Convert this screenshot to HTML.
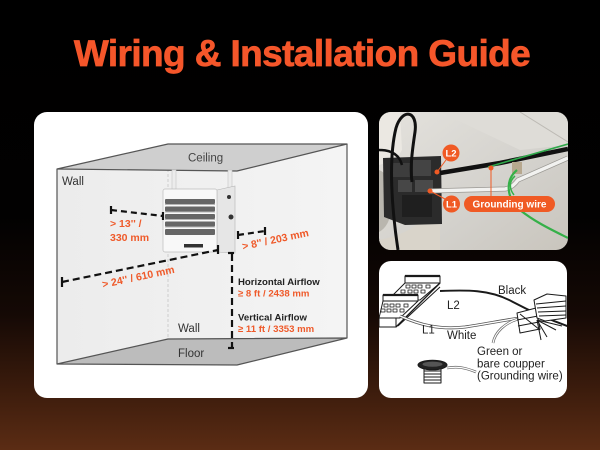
<!DOCTYPE html>
<html><head><meta charset="utf-8"><style>
html,body{margin:0;padding:0;}
body{width:600px;height:450px;overflow:hidden;background:linear-gradient(to bottom,#000 0%,#020101 48%,#150905 70%,#3a1b0c 86%,#5b2c14 100%);}
svg{display:block;font-family:"Liberation Sans",Arial,sans-serif;}
</style></head><body>
<svg width="600" height="450" viewBox="0 0 600 450" xmlns="http://www.w3.org/2000/svg">
<defs>
<clipPath id="cp1"><rect x="379" y="112" width="189" height="138" rx="12"/></clipPath>
<clipPath id="cp2"><rect x="379" y="261" width="188" height="137" rx="12"/></clipPath>
<linearGradient id="wallg" x1="0" x2="1" y1="0" y2="0"><stop offset="0" stop-color="#ececec"/><stop offset="1" stop-color="#f4f4f4"/></linearGradient>
<linearGradient id="photog" x1="0" x2="1" y1="0" y2="1"><stop offset="0" stop-color="#e4e2dd"/><stop offset="0.6" stop-color="#d3d1cc"/><stop offset="1" stop-color="#c9c5bd"/></linearGradient>
</defs>

<!-- Title -->
<text x="302" y="66" text-anchor="middle" font-size="37" font-weight="700" fill="#f5562a" stroke="#f5562a" stroke-width="0.7" letter-spacing="-0.6">Wiring &amp; Installation Guide</text>

<!-- Left panel -->
<rect x="34" y="112" width="334" height="286" rx="13" fill="#ffffff"/>
<!-- room -->
<polygon points="57,169 168,144 347,144 347,338 237,365 57,364" fill="url(#wallg)"/>
<line x1="168" y1="144" x2="168" y2="339" stroke="#c4c4c4" stroke-width="0.8" stroke-dasharray="3 2"/>
<polygon points="57,169 168,144 347,144 237,171" fill="#cfcfcf" stroke="#555" stroke-width="1.2" stroke-linejoin="round"/>
<polygon points="57,364 168,339 347,338 237,365" fill="#bcbcbc" stroke="#555" stroke-width="1.2" stroke-linejoin="round"/>
<line x1="57" y1="169" x2="57" y2="364" stroke="#555" stroke-width="1.2"/>
<line x1="347" y1="144" x2="347" y2="338" stroke="#555" stroke-width="1.2"/>
<text x="188" y="161.5" font-size="11.5" fill="#444">Ceiling</text>
<text x="62" y="185" font-size="11.5" fill="#333">Wall</text>
<text x="178" y="332" font-size="11.5" fill="#333">Wall</text>
<text x="178" y="357" font-size="11.5" fill="#333">Floor</text>

<!-- heater -->
<rect x="172" y="170" width="4" height="20" fill="#ececec" stroke="#c4c4c4" stroke-width="0.6"/>
<rect x="228" y="170" width="4" height="18" fill="#ececec" stroke="#c4c4c4" stroke-width="0.6"/>
<polygon points="217,190 235,186 235,253 217,252" fill="#e6e6e6" stroke="#b5b5b5" stroke-width="0.6"/>
<rect x="163" y="189" width="54" height="63" rx="2" fill="#f8f8f8" stroke="#bdbdbd" stroke-width="0.7"/>
<rect x="165" y="199" width="50" height="5" rx="1" fill="#666"/>
<rect x="165" y="206.5" width="50" height="5" rx="1" fill="#666"/>
<rect x="165" y="214" width="50" height="5" rx="1" fill="#666"/>
<rect x="165" y="221.5" width="50" height="5" rx="1" fill="#666"/>
<rect x="165" y="229" width="50" height="6" rx="1" fill="#666"/>
<line x1="165" y1="204.5" x2="215" y2="204.5" stroke="#a0a0a0" stroke-width="0.8"/>
<line x1="165" y1="212" x2="215" y2="212" stroke="#a0a0a0" stroke-width="0.8"/>
<line x1="165" y1="219.5" x2="215" y2="219.5" stroke="#a0a0a0" stroke-width="0.8"/>
<line x1="165" y1="227" x2="215" y2="227" stroke="#a0a0a0" stroke-width="0.8"/>
<rect x="184" y="244" width="19" height="3.5" fill="#333"/>
<circle cx="229" cy="197" r="2" fill="#333"/>
<circle cx="231" cy="217" r="2.5" fill="#333"/>

<!-- dimension lines -->
<g stroke="#111" stroke-width="2.2" fill="none">
<line x1="111" y1="210" x2="163" y2="216" stroke-dasharray="6 4"/>
<line x1="111" y1="206" x2="111" y2="214"/>
<line x1="163" y1="212" x2="163" y2="220"/>
<line x1="62" y1="282" x2="218" y2="250" stroke-dasharray="7 4"/>
<line x1="62" y1="277" x2="62" y2="287"/>
<line x1="218" y1="245" x2="218" y2="254"/>
<line x1="238" y1="235" x2="265" y2="231" stroke-dasharray="6 4"/>
<line x1="238" y1="231" x2="238" y2="239"/>
<line x1="265" y1="227" x2="265" y2="235"/>
<line x1="232" y1="254" x2="232" y2="347" stroke-dasharray="7 4"/>
<line x1="228" y1="253" x2="234" y2="253"/>
<line x1="228" y1="348" x2="234" y2="348"/>
</g>
<g font-weight="700" fill="#ef5a2a" font-size="10.5">
<text x="110" y="227">&gt; 13'' /</text>
<text x="110" y="241">330 mm</text>
<text x="0" y="0" transform="translate(103,288) rotate(-12)">&gt; 24'' / 610 mm</text>
<text x="0" y="0" transform="translate(243,250) rotate(-12)">&gt; 8'' / 203 mm</text>
</g>
<text x="238" y="285" font-size="9.6" font-weight="700" fill="#222">Horizontal Airflow</text>
<text x="238" y="296.5" font-size="9.6" font-weight="700" fill="#ef5a2a">≥ 8 ft / 2438 mm</text>
<text x="238" y="320.5" font-size="9.6" font-weight="700" fill="#222">Vertical Airflow</text>
<text x="238" y="332" font-size="9.6" font-weight="700" fill="#ef5a2a">≥ 11 ft / 3353 mm</text>

<!-- Top right photo -->
<g clip-path="url(#cp1)">
<rect x="379" y="112" width="189" height="138" fill="url(#photog)"/>
<polygon points="440,112 568,112 568,145 520,150" fill="#dedcd7"/>
<line x1="520" y1="112" x2="568" y2="142" stroke="#bdbab4" stroke-width="1"/>
<polygon points="379,112 400,112 402,150 396,160 379,165" fill="#ebe8e2"/>
<path d="M379 170 Q392 175 392 200 Q392 225 379 232 Z" fill="#b9b6ae"/>
<path d="M379 240 Q405 235 420 222 L440 222 L440 250 L379 250 Z" fill="#d9d4ca"/>
<polygon points="383,158 441,156 442,224 405,225 384,217" fill="#2b2b2b"/>
<rect x="392" y="163" width="18" height="14" fill="#3d3d3d"/>
<rect x="413" y="160" width="18" height="16" fill="#444"/>
<rect x="398" y="180" width="14" height="12" fill="#474747"/>
<rect x="415" y="180" width="18" height="12" fill="#4a4a4a"/>
<rect x="402" y="195" width="30" height="22" fill="#1f1f1f"/>
<path d="M398 250 C392 210 388 160 396 128 C402 108 418 110 415 132 C412 152 410 168 412 182" stroke="#111" stroke-width="3" fill="none"/>
<path d="M379 150 Q398 150 402 165" stroke="#111" stroke-width="2.5" fill="none"/>
<path d="M429 191 L505 189 Q512 188 518 180 L568 158" stroke="#9a9893" stroke-width="5" fill="none"/>
<path d="M429 191 L505 189 Q512 188 518 180 L568 158" stroke="#f2f2f0" stroke-width="3.5" fill="none"/>
<path d="M440 173 L500 163 L568 149" stroke="#111" stroke-width="4.5" fill="none"/>
<path d="M488 167 L568 144" stroke="#2fa84a" stroke-width="1.6" fill="none"/>
<rect x="512" y="162" width="10" height="12" fill="#b7a88f"/>
<path d="M517 170 C505 180 506 198 520 210 C535 222 552 230 568 238" stroke="#35b048" stroke-width="2.2" fill="none"/>
<path d="M515 176 C508 182 510 190 514 195" stroke="#35b048" stroke-width="1.5" fill="none"/>
</g>
<g stroke="#f05a24" stroke-width="1" fill="#f05a24">
<line x1="437" y1="172" x2="446" y2="160"/>
<circle cx="437" cy="172" r="2"/>
<line x1="430" y1="191" x2="445" y2="199"/>
<circle cx="430" cy="191" r="2"/>
<line x1="491" y1="196" x2="491" y2="168"/>
<circle cx="491" cy="168" r="2"/>
</g>
<circle cx="451" cy="153" r="8.5" fill="#f05a24"/>
<text x="451" y="156.5" text-anchor="middle" font-size="9.5" font-weight="700" fill="#fff">L2</text>
<circle cx="451.5" cy="204" r="8.5" fill="#f05a24"/>
<text x="451.5" y="207.5" text-anchor="middle" font-size="9.5" font-weight="700" fill="#fff">L1</text>
<rect x="464" y="196" width="91" height="16" rx="8" fill="#f05a24"/>
<text x="509.5" y="207.5" text-anchor="middle" font-size="10" font-weight="700" fill="#fff">Grounding wire</text>

<!-- Bottom right line drawing -->
<rect x="379" y="261" width="188" height="137" rx="12" fill="#fff"/>
<g clip-path="url(#cp2)" stroke="#1a1a1a" stroke-width="1" fill="#fff" stroke-linejoin="round">
<polygon points="405,276 440,276 440,283 405,283"/>
<line x1="405" y1="276" x2="440" y2="276" stroke-width="2.2"/>
<polygon points="405,283 440,283 420,300 388,300"/>
<polygon points="383,295 418,295 418,301 383,301"/>
<line x1="383" y1="295" x2="418" y2="295" stroke-width="2.2"/>
<polygon points="383,301 418,301 400,318 379,318"/>
<polygon points="379,318 396,318 396,327 379,327"/>
<line x1="440" y1="283" x2="396" y2="327" stroke-width="1.3"/>
<line x1="440" y1="287" x2="398" y2="326"/>
<g fill="#fff" stroke-width="0.8">
<rect x="406" y="285" width="4" height="3"/><rect x="412" y="285" width="4" height="3"/><rect x="418" y="285" width="4" height="3"/><rect x="426" y="285" width="4" height="3"/>
<rect x="401" y="290" width="4" height="3"/><rect x="408" y="290" width="4" height="3"/><rect x="414" y="290" width="4" height="3"/><rect x="421" y="290" width="4" height="3"/>
<rect x="384" y="304" width="4" height="3"/><rect x="390" y="304" width="4" height="3"/><rect x="396" y="304" width="4" height="3"/><rect x="404" y="304" width="4" height="3"/>
<rect x="381" y="309" width="4" height="3"/><rect x="387" y="309" width="4" height="3"/><rect x="393" y="309" width="4" height="3"/><rect x="400" y="309" width="4" height="3"/>
</g>
<path d="M440 291 C465 290 490 289 513 302 C530 311 550 320 570 327" fill="none" stroke-width="1.9"/>
<path d="M400 316 C420 325 440 330 465 327 C485 324 505 320 520 318" fill="none" stroke="#555" stroke-width="3"/>
<path d="M400 316 C420 325 440 330 465 327 C485 324 505 320 520 318" fill="none" stroke="#fff" stroke-width="1.4"/>
<path d="M493 343 C495 332 505 323 518 319" fill="none" stroke="#666" stroke-width="2.6"/>
<path d="M493 343 C495 332 505 323 518 319" fill="none" stroke="#fff" stroke-width="1.2"/>
<path d="M447 368 C458 366 466 368 476 372" fill="none" stroke="#666" stroke-width="2.6"/>
<path d="M447 368 C458 366 466 368 476 372" fill="none" stroke="#fff" stroke-width="1.2"/>
<polygon points="517,313 536,308 540,329 520,333"/>
<line x1="517" y1="320" x2="538" y2="316"/>
<line x1="518" y1="326" x2="539" y2="322"/>
<polygon points="534,300 547,294 566,296 566,318 545,321 537,318"/>
<line x1="536" y1="304" x2="566" y2="301"/>
<line x1="537" y1="308" x2="566" y2="306"/>
<line x1="538" y1="312" x2="566" y2="311"/>
<line x1="539" y1="316" x2="566" y2="315"/>
<line x1="520" y1="314" x2="540" y2="330"/>
<line x1="537" y1="320" x2="547" y2="337"/>
<line x1="537" y1="320" x2="556" y2="330"/>
<line x1="537" y1="320" x2="562" y2="326"/>
<line x1="537" y1="320" x2="541" y2="340"/>
<rect x="424" y="368" width="17" height="15" fill="#fff"/>
<line x1="424" y1="371" x2="441" y2="371"/><line x1="424" y1="374" x2="441" y2="374"/><line x1="424" y1="377" x2="441" y2="377"/><line x1="424" y1="380" x2="441" y2="380"/>
<ellipse cx="432.5" cy="365" rx="14.5" ry="4.8" fill="#222"/>
<ellipse cx="432.5" cy="364.2" rx="10" ry="2.6" fill="#555" stroke="none"/>
</g>
<g font-size="11.5" fill="#222">
<text x="498" y="294">Black</text>
<text x="447" y="309">L2</text>
<text x="422" y="333.5">L1</text>
<text x="447" y="339">White</text>
<text x="477" y="355">Green or</text>
<text x="477" y="367.5">bare coupper</text>
<text x="477" y="379.5">(Grounding wire)</text>
</g>
</svg>
</body></html>
